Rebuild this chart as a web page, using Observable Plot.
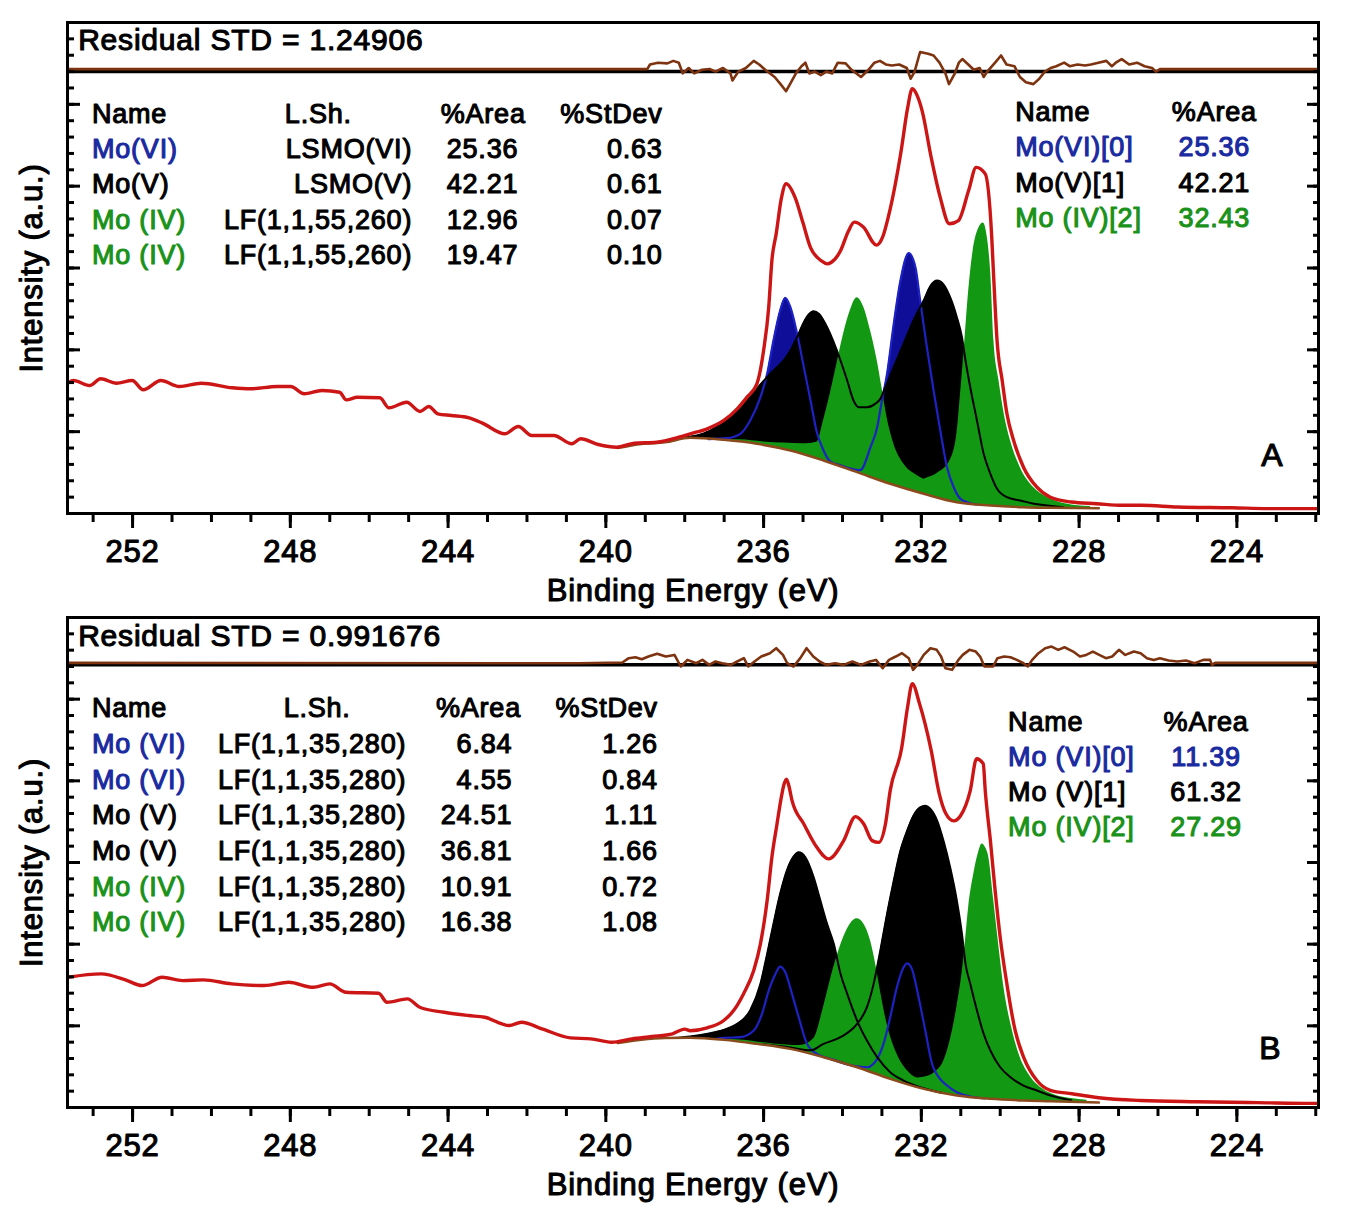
<!DOCTYPE html>
<html>
<head>
<meta charset="utf-8">
<script src="https://cdn.jsdelivr.net/npm/d3@7"></script>
<script src="https://cdn.jsdelivr.net/npm/@observablehq/plot@0.6"></script>
<style>
  html, body { margin: 0; padding: 0; background: #fff; }
  #chart { width: 1353px; }
  #chart svg { display: block; }
</style>
</head>
<body>
<div id="chart"></div>
<script>
// ---------------- axis / label data ----------------
const X_DOMAIN = [253.65, 221.93];               // Binding energy, reversed
const X_MAJOR = [252, 248, 244, 240, 236, 232, 228, 224];
const X_TITLE = "Binding Energy (eV)";
const Y_TITLE = "Intensity (a.u.)";

// ---------------- Panel A tables ----------------
const A_RESID_LABEL = "Residual STD = 1.24906";
const A_NAMES = ["Mo(VI)", "Mo(V)", "Mo (IV)", "Mo (IV)"];
const A_LSH = ["LSMO(VI)", "LSMO(V)", "LF(1,1,55,260)", "LF(1,1,55,260)"];
const A_AREA = ["25.36", "42.21", "12.96", "19.47"];
const A_STDEV = ["0.63", "0.61", "0.07", "0.10"];
const A_SUM_NAMES = ["Mo(VI)[0]", "Mo(V)[1]", "Mo (IV)[2]"];
const A_SUM_AREA = ["25.36", "42.21", "32.43"];

// ---------------- Panel B tables ----------------
const B_RESID_LABEL = "Residual STD = 0.991676";
const B_NAMES = ["Mo (VI)", "Mo (VI)", "Mo (V)", "Mo (V)", "Mo (IV)", "Mo (IV)"];
const B_LSH = ["LF(1,1,35,280)", "LF(1,1,35,280)", "LF(1,1,35,280)", "LF(1,1,35,280)", "LF(1,1,35,280)", "LF(1,1,35,280)"];
const B_AREA = ["6.84", "4.55", "24.51", "36.81", "10.91", "16.38"];
const B_STDEV = ["1.26", "0.84", "1.11", "1.66", "0.72", "1.08"];
const B_SUM_NAMES = ["Mo (VI)[0]", "Mo (V)[1]", "Mo (IV)[2]"];
const B_SUM_AREA = ["11.39", "61.32", "27.29"];

// ---------------- Panel A curves [eV, intensity] ----------------
const ENV_A = [[253.62,1.60],[253.50,1.625],[253.09,1.564],[252.81,1.646],[252.41,1.592],[252.01,1.625],[251.73,1.512],[251.28,1.625],[250.82,1.552],[250.26,1.592],[249.47,1.536],[249.01,1.524],[248.33,1.552],[247.99,1.552],[247.65,1.463],[247.20,1.503],[246.75,1.482],[246.58,1.389],[246.30,1.421],[245.73,1.414],[245.50,1.292],[245.05,1.360],[244.71,1.247],[244.49,1.308],[244.26,1.218],[243.92,1.198],[243.47,1.169],[243.13,1.104],[242.56,0.974],[242.22,1.063],[241.88,0.953],[241.32,0.953],[240.86,0.852],[240.64,0.913],[240.19,0.843],[239.73,0.810],[239.28,0.859],[238.71,0.871],[238.15,0.932],[237.86,0.974],[237.43,1.035],[237.01,1.137],[236.67,1.279],[236.42,1.422],[236.17,1.585],[236.00,1.992],[235.87,2.52],[235.79,3.09],[235.68,3.42],[235.55,3.85],[235.43,4.03],[235.20,3.86],[235.00,3.55],[234.81,3.25],[234.51,3.08],[234.39,3.05],[234.28,3.07],[234.05,3.21],[233.85,3.45],[233.70,3.56],[233.47,3.50],[233.14,3.28],[232.98,3.38],[232.84,3.62],[232.51,4.44],[232.35,4.95],[232.23,5.19],[232.10,5.10],[231.98,4.92],[231.75,4.35],[231.52,3.86],[231.29,3.54],[231.06,3.58],[230.80,3.95],[230.61,4.23],[230.38,4.15],[230.22,3.42],[230.17,2.93],[230.08,2.11],[229.95,1.625],[229.83,1.218],[229.66,0.892],[229.41,0.566],[229.07,0.321],[228.73,0.199],[228.20,0.14],[227.56,0.12],[226.90,0.10],[226.42,0.10],[225.50,0.08],[224.11,0.07],[223.20,0.06],[222.06,0.06],[221.95,0.06]];
const BG_A = [[239.70,0.80],[239.10,0.85],[238.50,0.87],[237.86,0.925],[237.01,0.900],[236.17,0.852],[235.32,0.770],[234.48,0.648],[233.63,0.505],[232.79,0.363],[231.94,0.241],[231.10,0.138],[230.25,0.098],[229.41,0.077],[228.73,0.070],[227.50,0.065]];
const BLUE_A = [[237.40,0.91],[236.93,0.92],[236.59,0.974],[236.34,1.137],[236.08,1.422],[235.91,1.707],[235.75,2.114],[235.58,2.481],[235.45,2.636],[235.32,2.521],[235.15,2.196],[234.98,1.788],[234.81,1.381],[234.65,0.994],[234.48,0.770],[234.31,0.635],[234.05,0.59],[233.80,0.55],[233.55,0.53],[233.29,0.810],[233.12,1.055],[233.00,1.381],[232.87,1.707],[232.70,2.318],[232.53,2.847],[232.32,3.181],[232.15,3.010],[232.03,2.603],[231.86,2.032],[231.69,1.503],[231.52,1.014],[231.35,0.566],[231.18,0.321],[231.01,0.180],[230.84,0.138],[230.60,0.11]];
const BLACK_A = [[238.40,0.88],[238.00,0.93],[237.69,0.953],[237.35,1.014],[237.01,1.116],[236.67,1.259],[236.42,1.381],[236.17,1.524],[235.91,1.666],[235.70,1.768],[235.49,1.870],[235.32,1.992],[235.15,2.155],[234.98,2.338],[234.86,2.43],[234.73,2.472],[234.60,2.44],[234.48,2.359],[234.31,2.196],[234.14,1.992],[234.05,1.870],[233.88,1.625],[233.72,1.381],[233.59,1.299],[233.38,1.299],[233.17,1.340],[233.04,1.401],[232.91,1.543],[232.70,1.788],[232.45,2.074],[232.20,2.359],[231.94,2.603],[231.77,2.78],[231.60,2.847],[231.44,2.80],[231.27,2.643],[231.10,2.399],[230.97,2.155],[230.88,1.870],[230.76,1.543],[230.59,1.137],[230.42,0.730],[230.25,0.485],[230.08,0.302],[229.83,0.199],[229.49,0.159],[229.15,0.119],[228.81,0.098],[228.40,0.075]];
const GREEN1_A = [[237.20,0.905],[236.60,0.90],[236.00,0.875],[235.50,0.86],[234.98,0.852],[234.65,0.872],[234.48,1.137],[234.31,1.463],[234.14,1.829],[233.97,2.196],[233.80,2.481],[233.63,2.636],[233.46,2.521],[233.29,2.236],[233.12,1.870],[233.00,1.543],[232.87,1.177],[232.70,0.852],[232.45,0.607],[232.11,0.464],[231.77,0.383],[231.27,0.281],[230.67,0.180],[229.83,0.119],[229.00,0.08]];
const GREEN2_A = [[232.40,0.33],[231.94,0.42],[231.60,0.49],[231.27,0.65],[231.10,0.97],[231.00,1.50],[230.91,2.03],[230.80,2.72],[230.69,3.20],[230.55,3.48],[230.43,3.55],[230.32,3.35],[230.24,2.93],[230.16,2.11],[230.03,1.62],[229.90,1.22],[229.74,0.89],[229.49,0.56],[229.16,0.32],[228.81,0.20],[228.35,0.12],[227.71,0.085]];
const RES_A = [[253.65,0.03],[238.95,0.03],[238.88,0.087],[238.68,0.109],[238.44,0.100],[238.29,0.131],[238.15,0.109],[238.05,-0.022],[237.90,0.044],[237.76,-0.022],[237.56,0.022],[237.37,0.031],[237.22,0],[237.03,0.044],[236.84,-0.022],[236.79,-0.109],[236.64,0],[236.45,0.044],[236.25,0.131],[236.11,0.087],[235.96,0.022],[235.72,-0.066],[235.57,-0.153],[235.43,-0.240],[235.33,-0.153],[235.18,-0.022],[235.04,0.066],[234.94,0.109],[234.84,-0.022],[234.70,0],[234.55,-0.044],[234.41,0],[234.26,-0.022],[234.12,0.109],[233.92,0.100],[233.77,0.022],[233.53,-0.066],[233.34,0.022],[233.19,0.109],[233.05,0.131],[232.90,0.087],[232.75,0.074],[232.56,0.087],[232.37,0.044],[232.27,-0.087],[232.17,0],[232.07,0.175],[232.03,0.240],[231.83,0.218],[231.69,0.197],[231.54,0.109],[231.39,-0.022],[231.30,-0.153],[231.15,-0.022],[231.05,0.109],[230.96,0.153],[230.81,0.087],[230.67,0.022],[230.52,0.044],[230.42,-0.066],[230.33,0],[230.13,0.109],[229.98,0.197],[229.84,0.087],[229.64,0.066],[229.50,-0.066],[229.35,-0.131],[229.16,-0.153],[229.01,-0.087],[228.87,0],[228.72,0.044],[228.58,0.066],[228.38,0.109],[228.24,0.066],[228.04,0.087],[227.85,0.074],[227.70,0.087],[227.51,0.109],[227.31,0.131],[227.17,0.066],[227.07,0.109],[226.92,0.153],[226.73,0.087],[226.53,0.109],[226.34,0.066],[226.15,0.044],[226.05,0],[225.95,0.03],[221.93,0.03]];

// ---------------- Panel B curves [eV, intensity] ----------------
const ENV_B = [[253.63,1.595],[252.80,1.636],[252.18,1.563],[251.76,1.493],[251.25,1.595],[250.73,1.554],[250.21,1.563],[249.49,1.514],[248.66,1.493],[248.04,1.534],[247.42,1.472],[247.00,1.514],[246.59,1.411],[245.76,1.399],[245.55,1.289],[245.03,1.330],[244.72,1.228],[244.10,1.166],[243.48,1.126],[243.07,1.105],[242.45,1.004],[242.14,1.044],[241.62,0.963],[240.90,0.853],[240.38,0.841],[239.86,0.799],[239.34,0.841],[238.83,0.869],[238.31,0.902],[238.00,0.96],[237.86,0.94],[237.43,0.975],[237.01,1.065],[236.76,1.187],[236.51,1.391],[236.25,1.677],[236.08,2.004],[235.91,2.534],[235.79,3.064],[235.66,3.472],[235.55,3.80],[235.48,3.96],[235.42,4.02],[235.36,3.94],[235.28,3.76],[234.98,3.472],[234.65,3.186],[234.35,3.044],[233.97,3.268],[233.67,3.562],[233.46,3.472],[233.25,3.268],[233.08,3.247],[232.91,3.472],[232.79,3.880],[232.50,4.40],[232.35,4.90],[232.23,5.19],[232.05,4.95],[231.75,4.37],[231.55,3.85],[231.38,3.60],[231.18,3.51],[231.01,3.57],[230.76,3.88],[230.60,4.27],[230.43,4.21],[230.38,3.88],[230.25,3.27],[230.13,2.66],[230.00,2.08],[229.83,1.51],[229.62,0.94],[229.41,0.62],[229.07,0.33],[228.73,0.21],[228.18,0.168],[227.50,0.12],[226.45,0.086],[225.00,0.07],[223.50,0.06],[222.06,0.05],[221.95,0.05]];
const BG_B = [[239.70,0.79],[239.10,0.83],[238.50,0.85],[237.86,0.853],[237.01,0.828],[236.17,0.779],[235.32,0.718],[234.48,0.616],[233.63,0.493],[232.79,0.351],[231.94,0.228],[231.10,0.147],[230.25,0.106],[229.41,0.086],[228.73,0.077],[227.50,0.06]];
const BLUE1_B = [[237.20,0.84],[237.01,0.853],[236.59,0.861],[236.25,0.942],[236.04,1.147],[235.87,1.432],[235.70,1.636],[235.58,1.726],[235.45,1.656],[235.28,1.392],[235.11,1.105],[234.90,0.779],[234.65,0.657],[234.22,0.585],[233.90,0.535]];
const BLUE2_B = [[234.30,0.595],[233.72,0.51],[233.38,0.493],[233.12,0.596],[232.96,0.779],[232.79,1.105],[232.62,1.472],[232.45,1.717],[232.36,1.766],[232.24,1.698],[232.07,1.350],[231.90,0.942],[231.73,0.535],[231.56,0.371],[231.35,0.269],[231.10,0.187],[230.76,0.135],[230.40,0.11]];
const BLACK1_B = [[238.30,0.85],[237.86,0.869],[237.35,0.910],[237.01,0.951],[236.67,1.024],[236.34,1.187],[236.08,1.514],[235.91,1.881],[235.75,2.248],[235.58,2.616],[235.41,2.901],[235.24,3.072],[235.11,3.125],[234.94,3.064],[234.73,2.819],[234.56,2.534],[234.39,2.248],[234.22,2.004],[234.05,1.637],[233.88,1.392],[233.63,1.065],[233.38,0.820],[233.12,0.616],[232.79,0.432],[232.45,0.330],[231.94,0.235],[231.50,0.18]];
const BLACK2_B = [[236.00,0.775],[235.32,0.735],[234.81,0.700],[234.48,0.779],[234.05,0.861],[233.63,1.024],[233.38,1.228],[233.21,1.514],[233.04,1.922],[232.87,2.371],[232.70,2.778],[232.53,3.146],[232.36,3.390],[232.20,3.574],[232.03,3.676],[231.90,3.696],[231.77,3.656],[231.60,3.513],[231.44,3.268],[231.27,2.941],[231.10,2.534],[230.97,2.126],[230.88,1.759],[230.76,1.514],[230.59,1.187],[230.42,0.902],[230.25,0.698],[230.00,0.493],[229.74,0.371],[229.41,0.269],[229.07,0.208],[228.73,0.147],[228.20,0.09]];
const GREEN1_B = [[237.20,0.84],[236.59,0.828],[235.75,0.779],[235.07,0.759],[234.73,0.841],[234.48,1.228],[234.22,1.717],[233.97,2.084],[233.80,2.248],[233.63,2.310],[233.46,2.248],[233.29,2.044],[233.16,1.759],[233.04,1.432],[232.87,1.024],[232.62,0.657],[232.28,0.412],[231.94,0.330],[231.44,0.248],[230.67,0.147],[229.80,0.10]];
const GREEN2_B = [[232.70,0.345],[231.94,0.371],[231.52,0.493],[231.27,0.820],[231.10,1.228],[230.97,1.637],[230.88,2.044],[230.80,2.452],[230.67,2.860],[230.55,3.12],[230.46,3.228],[230.36,3.17],[230.29,3.064],[230.17,2.56],[230.04,2.00],[229.90,1.45],[229.72,1.00],[229.50,0.62],[229.24,0.38],[228.90,0.22],[228.60,0.15],[228.20,0.11],[227.80,0.09]];
const RES_B = [[253.65,0.025],[240.68,0.02],[239.58,0.029],[239.42,0.082],[239.25,0.094],[239.09,0.069],[238.92,0.102],[238.70,0.135],[238.48,0.102],[238.26,0.122],[238.10,-0.020],[237.93,0.061],[237.71,0.020],[237.55,0.061],[237.38,0],[237.22,0.041],[237.05,0.020],[236.83,0],[236.67,0.041],[236.50,0.082],[236.39,-0.020],[236.23,0.041],[236.06,0.102],[235.84,0.143],[235.68,0.204],[235.51,0.122],[235.40,0.020],[235.24,-0.020],[235.07,0.082],[234.91,0.204],[234.74,0.102],[234.58,0.041],[234.41,0],[234.19,0.020],[233.97,0],[233.75,0.041],[233.53,0],[233.31,0.041],[233.15,0.061],[232.98,-0.041],[232.82,0.061],[232.65,0.102],[232.49,0.143],[232.32,0.082],[232.21,-0.061],[232.10,0],[231.94,0.122],[231.77,0.204],[231.61,0.184],[231.50,0.102],[231.39,-0.041],[231.22,-0.061],[231.06,0.061],[230.95,0.122],[230.78,0.184],[230.62,0.163],[230.51,0.102],[230.40,-0.020],[230.18,-0.020],[230.07,0.082],[229.90,0.102],[229.74,0.094],[229.58,0.061],[229.41,0.020],[229.30,-0.020],[229.19,0.061],[229.03,0.143],[228.86,0.204],[228.70,0.224],[228.53,0.184],[228.37,0.216],[228.15,0.163],[227.98,0.102],[227.82,0.122],[227.65,0.163],[227.49,0.122],[227.32,0.082],[227.16,0.102],[226.99,0.184],[226.83,0.122],[226.61,0.163],[226.44,0.143],[226.28,0.082],[226.11,0.061],[225.95,0.082],[225.73,0.053],[225.51,0.041],[225.29,0.053],[225.07,0.020],[224.85,0.061],[224.68,0.061],[224.63,0],[224.55,0.025],[221.93,0.025]];

// ---------------- styling ----------------
const FONT = "'Liberation Sans', Arial, Helvetica, sans-serif";
const C = {
  blueFill: "#0e0e98", blueLine: "#1e22c4", green: "#129812", red: "#cc1616",
  bg: "#8a4a1c", res: "#7d3210", blueText: "#1a2aa0", greenText: "#1a921a"
};
const colorOf = name => /VI/.test(name) ? C.blueText : /IV/.test(name) ? C.greenText : "#000";
const X_MINOR = d3.range(222, 254, 1);
const Y_MINOR = d3.range(0, 6.001, 0.2);
const Y_MAJOR = d3.range(0, 7, 1);

function txt(data, o) {
  return Plot.text(data, {fontFamily: FONT, fontSize: 27, fill: "#000", stroke: o.fill || "#000", strokeWidth: 1.1, lineAnchor: "middle", ...o});
}

function panel(p) {
  const X = d => d[0], Y = d => d[1];
  const area = (data, fill) => Plot.areaY(data, {x: X, y: Y, fill, curve: "monotone-x"});
  const line = (data, stroke, strokeWidth, curve = "monotone-x") => Plot.line(data, {x: X, y: Y, stroke, strokeWidth, curve});
  const row = (start, step) => (d, i) => start - (i + 1) * step;
  const t = p.table, s = p.summary;
  return Plot.plot({
    width: 1353, height: p.height,
    marginLeft: 67, marginRight: 35, marginTop: p.marginTop, marginBottom: p.marginBottom,
    x: {type: "linear", domain: X_DOMAIN, axis: null},
    y: {type: "linear", domain: [0, 6], axis: null},
    style: {fontFamily: FONT, background: "white", overflow: "visible", letterSpacing: "0.8px"},
    marks: [
      ...p.fills.map(([d, c]) => area(d, c)),
      area(p.bg, "white"),
      ...p.blueLines.map(d => line(d, C.blueLine, 2.2)),
      ...p.blackLines.map(d => line(d, "#000", 2)),
      line(p.bg, C.bg, 2.5),
      line(p.env, C.red, 3.4),
      Plot.ruleY([p.resZero], {stroke: "#000", strokeWidth: 3.5}),
      Plot.line(p.res, {x: X, y: d => p.resZero + d[1], stroke: C.res, strokeWidth: 2.6}),
      Plot.frame({stroke: "#000", strokeWidth: 3}),
      Plot.axisX({ticks: X_MINOR, tickSize: 9, tickFormat: () => "", strokeWidth: 3, label: null}),
      Plot.axisX({ticks: X_MAJOR, tickSize: 15, tickFormat: () => "", strokeWidth: 3, label: null}),
      Plot.axisY({anchor: "left", ticks: Y_MINOR, tickSize: -7, tickFormat: () => "", strokeWidth: 3, label: null}),
      Plot.axisY({anchor: "left", ticks: Y_MAJOR, tickSize: -13, tickFormat: () => "", strokeWidth: 3, label: null}),
      Plot.axisY({anchor: "right", ticks: Y_MINOR, tickSize: -6, tickFormat: () => "", strokeWidth: 3, label: null}),
      Plot.axisY({anchor: "right", ticks: Y_MAJOR, tickSize: -12, tickFormat: () => "", strokeWidth: 3, label: null}),
      // axis labels
      txt(X_MAJOR, {x: d => d, text: d => String(d), frameAnchor: "bottom", dy: 39, fontSize: 31, textAnchor: "middle"}),
      txt([X_TITLE], {frameAnchor: "bottom", dy: 78, fontSize: 31, textAnchor: "middle"}),
      txt([Y_TITLE], {frameAnchor: "left", dx: -35, rotate: -90, fontSize: 31, textAnchor: "middle"}),
      txt([p.resLabel], {x: 253.38, y: p.resLabelY, textAnchor: "start", fontSize: 30}),
      txt([p.letter], {x: p.letterX, y: p.letterY, fontSize: 32}),
      // left table
      txt(["Name"], {x: t.nameX, y: t.headY, textAnchor: "start"}),
      txt(["L.Sh."], {x: t.lshHeadX, y: t.headY}),
      txt(["%Area"], {x: t.areaHeadX, y: t.headY}),
      txt(["%StDev"], {x: t.sdX, y: t.headY, textAnchor: "end"}),
      txt(t.names, {x: t.nameX, y: row(t.headY, t.step), textAnchor: "start", fill: d => colorOf(d), stroke: d => colorOf(d)}),
      txt(t.lsh, {x: t.lshX, y: row(t.headY, t.step), textAnchor: "end"}),
      txt(t.area, {x: t.areaX, y: row(t.headY, t.step), textAnchor: "end"}),
      txt(t.sd, {x: t.sdX, y: row(t.headY, t.step), textAnchor: "end"}),
      // summary table
      txt(["Name"], {x: s.nameX, y: s.headY, textAnchor: "start"}),
      txt(["%Area"], {x: s.areaX, y: s.headY}),
      txt(s.names, {x: s.nameX, y: row(s.headY, s.step), textAnchor: "start", fill: d => colorOf(d), stroke: d => colorOf(d)}),
      txt(s.area, {x: s.areaX, y: row(s.headY, s.step), fill: (d, i) => colorOf(s.names[i]), stroke: (d, i) => colorOf(s.names[i])})
    ]
  });
}

const chart = document.getElementById("chart");
chart.append(panel({
  height: 612, marginTop: 22, marginBottom: 99,
  env: ENV_A, bg: BG_A, res: RES_A, resZero: 5.40,
  fills: [[BLUE_A, C.blueFill], [BLACK_A, "#000"], [GREEN1_A, C.green], [GREEN2_A, C.green]],
  blueLines: [BLUE_A], blackLines: [BLACK_A],
  resLabel: A_RESID_LABEL, resLabelY: 5.78,
  letter: "A", letterX: 223.10, letterY: 0.71,
  table: {names: A_NAMES, lsh: A_LSH, area: A_AREA, sd: A_STDEV, headY: 4.88, step: 0.432,
          nameX: 253.03, lshX: 244.91, lshHeadX: 247.29, areaX: 242.22, areaHeadX: 243.11, sdX: 238.56},
  summary: {names: A_SUM_NAMES, area: A_SUM_AREA, headY: 4.90, step: 0.43, nameX: 229.62, areaX: 224.57}
}));
chart.append(panel({
  height: 600, marginTop: 5, marginBottom: 105,
  env: ENV_B, bg: BG_B, res: RES_B, resZero: 5.42,
  fills: [[BLUE1_B, C.blueFill], [BLUE2_B, C.blueFill], [BLACK1_B, "#000"], [BLACK2_B, "#000"], [GREEN1_B, C.green], [GREEN2_B, C.green]],
  blueLines: [BLUE1_B, BLUE2_B], blackLines: [BLACK1_B, BLACK2_B],
  resLabel: B_RESID_LABEL, resLabelY: 5.765,
  letter: "B", letterX: 223.15, letterY: 0.72,
  table: {names: B_NAMES, lsh: B_LSH, area: B_AREA, sd: B_STDEV, headY: 4.884, step: 0.437,
          nameX: 253.03, lshX: 245.06, lshHeadX: 247.32, areaX: 242.37, areaHeadX: 243.23, sdX: 238.68},
  summary: {names: B_SUM_NAMES, area: B_SUM_AREA, headY: 4.712, step: 0.428, nameX: 229.80, areaX: 224.78}
}));
</script>
</body>
</html>
